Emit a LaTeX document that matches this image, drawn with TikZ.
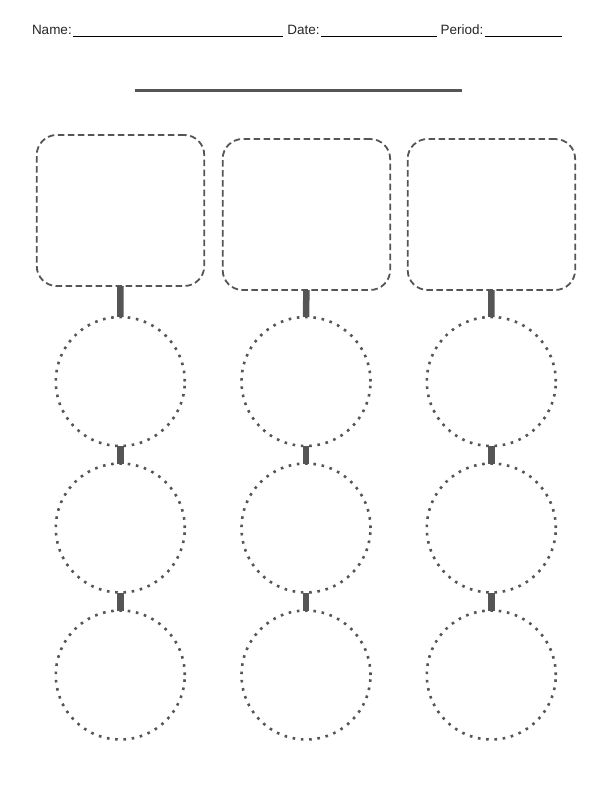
\documentclass[tikz,border=0pt]{standalone}
\usepackage{fontspec}
\setmainfont{Liberation Sans}
\definecolor{ink}{RGB}{85,85,85}
\begin{document}
\begin{tikzpicture}[x=1bp,y=-1bp,
  hdr/.style={inner sep=0pt,outer sep=0pt,anchor=base west,text=black!85,font=\fontsize{13.5bp}{15bp}\selectfont},
  uline/.style={line width=0.9bp,black},
  topicbox/.style={draw=ink,line width=1.8bp,dash pattern=on 6.5bp off 3.5bp,rounded corners=20bp,
    minimum width=167.5bp,minimum height=151bp,inner sep=0pt,outer sep=0pt},
  detail/.style={circle,draw=ink,line width=2.6bp,dash pattern=on 2.6bp off 5.7bp,
    minimum size=129bp,inner sep=0pt,outer sep=0pt},
  link/.style={draw=ink,line width=6.5bp}]
\useasboundingbox (0,0) rectangle (612,792);
% header
\node[hdr] (name) at (32,35) {Name:};
\coordinate (n1) at (72.7,36); \coordinate (n2) at (282.7,36);
\draw[uline] (n1) -- (n2);
\node[hdr] (date) at (287.3,35) {Date:};
\coordinate (d1) at (321,36); \coordinate (d2) at (436.7,36);
\draw[uline] (d1) -- (d2);
\node[hdr] (period) at (440.7,35) {Period:};
\coordinate (p1) at (485,36); \coordinate (p2) at (562,36);
\draw[uline] (p1) -- (p2);
% title line
\coordinate (t1) at (135,90.3); \coordinate (t2) at (461.7,90.3);
\draw[draw=ink,line width=3bp] (t1) -- (t2);
% boxes
\node[topicbox] (b1) at (120.5,210.5) {};
\node[topicbox] (b2) at (306.4,214.5) {};
\node[topicbox] (b3) at (491.4,214.5) {};
% circles
\foreach \c/\x in {1/120.3,2/306,3/491.3}{
  \node[detail] (c\c1) at (\x,381.5) {};
  \node[detail] (c\c2) at (\x,528) {};
  \node[detail] (c\c3) at (\x,675) {};
}
% connectors
\foreach \c in {1,2,3}{
  \draw[link] (b\c.south) -- (c\c1.north);
  \draw[link] (c\c1.south) -- (c\c2.north);
  \draw[link] (c\c2.south) -- (c\c3.north);
}
\end{tikzpicture}
\end{document}
